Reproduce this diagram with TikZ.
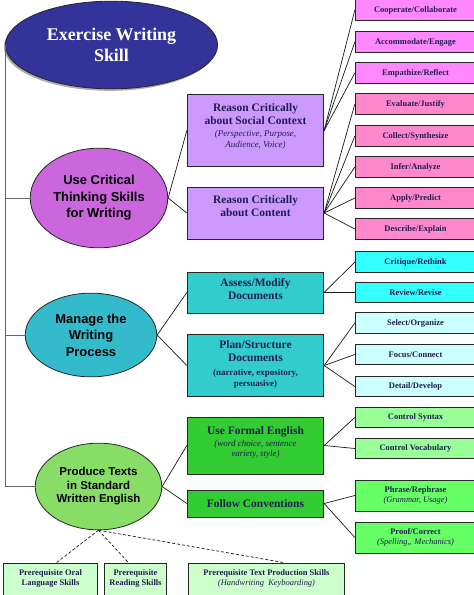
\documentclass[tikz,border=0pt]{standalone}
\usepackage{fontspec}
\setmainfont{Liberation Serif}
\newfontfamily\arialFont{Liberation Sans}
\usetikzlibrary{shapes.geometric,shadows}

\definecolor{skillBlue}{HTML}{333399}
\definecolor{thinkPurple}{HTML}{CC66DD}
\definecolor{manageCyan}{HTML}{33BBCC}
\definecolor{produceGreen}{HTML}{88DD66}
\definecolor{reasonViolet}{HTML}{CC99FF}
\definecolor{manageTeal}{HTML}{33CCCC}
\definecolor{formalGreen}{HTML}{33CC33}
\definecolor{leafMagenta}{HTML}{FF88FF}
\definecolor{leafPink}{HTML}{FF88CC}
\definecolor{leafCyan}{HTML}{33FFFF}
\definecolor{leafIce}{HTML}{CCFFFF}
\definecolor{leafMint}{HTML}{99FF99}
\definecolor{leafLime}{HTML}{66FF66}
\definecolor{prereqGreen}{HTML}{CCFFCC}
\definecolor{inkText}{HTML}{1E1E50}

\begin{document}
\begin{tikzpicture}[x=1bp,y=-1bp,
  ring/.style={ellipse, draw=black!85, line width=0.8, inner sep=0pt, align=center,
    font=\arialFont\bfseries\fontsize{13}{16.5}\selectfont, text=black},
  midBox/.style={rectangle, draw=black!85, line width=0.8, inner sep=0pt, align=center,
    minimum width=137, font=\bfseries\fontsize{11.5}{13.5}\selectfont, text=inkText},
  leafBox/.style={rectangle, draw=black!85, line width=0.8, inner sep=0pt, align=center,
    minimum width=121, minimum height=20.5, font=\bfseries\fontsize{8.5}{10}\selectfont, text=inkText},
  prereqBox/.style={leafBox, fill=prereqGreen, minimum height=35, text depth=5},
  trunk/.style={draw=black!60, line width=1},
  twig/.style={draw=black!90, line width=0.7}
]
    \newcommand{\noteIt}[1]{%
        {\mdseries\itshape\fontsize{9}{11}\selectfont #1}%
    }
    \newcommand{\noteUp}[1]{%
        {\fontsize{9}{11.5}\selectfont #1}%
    }
\clip (0,0) rectangle (474,595);

% main skill and the three ellipses
\node[ring, fill=skillBlue, minimum width=213, minimum height=88, text=white,
  font=\bfseries\fontsize{18}{21}\selectfont,
  drop shadow={shadow xshift=-1.5pt, shadow yshift=-2pt, fill=black!65}] (skill) at (111.5,45) {Exercise Writing\\Skill};
\node[ring, fill=thinkPurple, minimum width=138, minimum height=100] (critical) at (99,198) {Use Critical\\Thinking Skills\\for Writing};
\node[ring, fill=manageCyan, minimum width=132, minimum height=84] (manage) at (91,335) {Manage the\\Writing\\Process};
\node[ring, fill=produceGreen, minimum width=127, minimum height=87,
  font=\arialFont\bfseries\fontsize{11.5}{13.5}\selectfont] (produce) at (98.5,486.5) {Produce Texts\\in Standard\\Written English};

% middle column
\node[midBox, fill=reasonViolet, minimum height=73, text depth=10] (social) at (255.5,130.5)
  {Reason Critically\\about Social Context\\[-1pt]\noteIt{(Perspective, Purpose,}\\[-2.5pt]\noteIt{Audience, Voice)}};
\node[midBox, fill=reasonViolet, minimum height=52, text depth=14] (content) at (255.5,213) {Reason Critically\\about Content};
\node[midBox, fill=manageTeal, minimum height=41, text depth=7] (assess) at (255.5,292.5) {Assess/Modify\\Documents};
\node[midBox, fill=manageTeal, minimum height=63, text depth=4] (plan) at (255.5,365.5)
  {Plan/Structure\\Documents\\\noteUp{(narrative, expository,}\\[-2pt]\noteUp{persuasive)}};
\node[midBox, fill=formalGreen, minimum height=57, text depth=8] (formal) at (255.5,445.5)
  {Use Formal English\\[-1pt]\noteIt{(word choice, sentence}\\[-3pt]\noteIt{variety, style)}};
\node[midBox, fill=formalGreen, minimum height=27] (conventions) at (255.5,503.5) {Follow Conventions};

% right column
\node[leafBox, fill=leafMagenta] (coop) at (415.5,10) {Cooperate/Collaborate};
\node[leafBox, fill=leafMagenta] (accom) at (415.5,42) {Accommodate/Engage};
\node[leafBox, fill=leafMagenta] (empath) at (415.5,73) {Empathize/Reflect};
\node[leafBox, fill=leafPink] (evaluate) at (415.5,104) {Evaluate/Justify};
\node[leafBox, fill=leafPink] (collect) at (415.5,136) {Collect/Synthesize};
\node[leafBox, fill=leafPink] (infer) at (415.5,167) {Infer/Analyze};
\node[leafBox, fill=leafPink] (apply) at (415.5,198) {Apply/Predict};
\node[leafBox, fill=leafPink] (describe) at (415.5,229) {Describe/Explain};

\node[leafBox, fill=leafCyan] (critique) at (415.5,262) {Critique/Rethink};
\node[leafBox, fill=leafCyan] (review) at (415.5,292.5) {Review/Revise};
\node[leafBox, fill=leafIce] (select) at (415.5,323) {Select/Organize};
\node[leafBox, fill=leafIce] (focus) at (415.5,354.5) {Focus/Connect};
\node[leafBox, fill=leafIce] (detail) at (415.5,386.5) {Detail/Develop};

\node[leafBox, fill=leafMint] (syntax) at (415.5,417.5) {Control Syntax};
\node[leafBox, fill=leafMint] (vocab) at (415.5,448.5) {Control Vocabulary};
\node[leafBox, fill=leafLime, minimum height=31] (phrase) at (415.5,495.5)
  {Phrase/Rephrase\\\mdseries\itshape(Grammar, Usage)};
\node[leafBox, fill=leafLime, minimum height=31] (proof) at (415.5,537.5)
  {Proof/Correct\\\mdseries\itshape(Spelling,, Mechanics)};

% prerequisites
\node[prereqBox, minimum width=95] (oral) at (50.5,580.5) {Prerequisite Oral\\Language Skills};
\node[prereqBox, minimum width=63] (reading) at (135.5,580.5) {Prerequisite\\Reading Skills};
\node[prereqBox, minimum width=157] (production) at (266.5,580.5)
  {Prerequisite Text Production Skills\\\mdseries\itshape(Handwriting\ \ Keyboarding)};

% connectors
\draw[trunk] (skill.west) |- (produce.west);
\draw[trunk] (skill.west |- critical.west) -- (critical.west);
\draw[trunk] (skill.west |- manage.west) -- (manage.west);

\draw[twig] (critical.east) -- (social.west);
\draw[twig] (critical.east) -- (content.west);
\draw[twig] (manage.east) -- (assess.west);
\draw[twig] (manage.east) -- (plan.west);
\draw[twig] (produce.east) -- (formal.west);
\draw[twig] (produce.east) -- (conventions.west);

\foreach \leaf in {coop,accom,empath}
  \draw[twig] (social.east) -- (\leaf.west);
\foreach \leaf in {evaluate,collect,infer,apply,describe}
  \draw[twig] (content.east) -- (\leaf.west);
\foreach \leaf in {critique,review}
  \draw[twig] (assess.east) -- (\leaf.west);
\foreach \leaf in {select,focus,detail}
  \draw[twig] (plan.east) -- (\leaf.west);
\foreach \leaf in {syntax,vocab}
  \draw[twig] (formal.east) -- (\leaf.west);
\foreach \leaf in {phrase,proof}
  \draw[twig] (conventions.east) -- (\leaf.west);

\draw[twig, dashed, dash pattern=on 3pt off 2pt] (produce.south) -- ([xshift=6pt]oral.north);
\draw[twig, dashed, dash pattern=on 3pt off 2pt] (produce.south) -- ([xshift=-7pt]reading.north);
\draw[twig, dashed, dash pattern=on 3pt off 2pt] (produce.south) -- ([xshift=18pt]production.north);
\end{tikzpicture}
\end{document}
